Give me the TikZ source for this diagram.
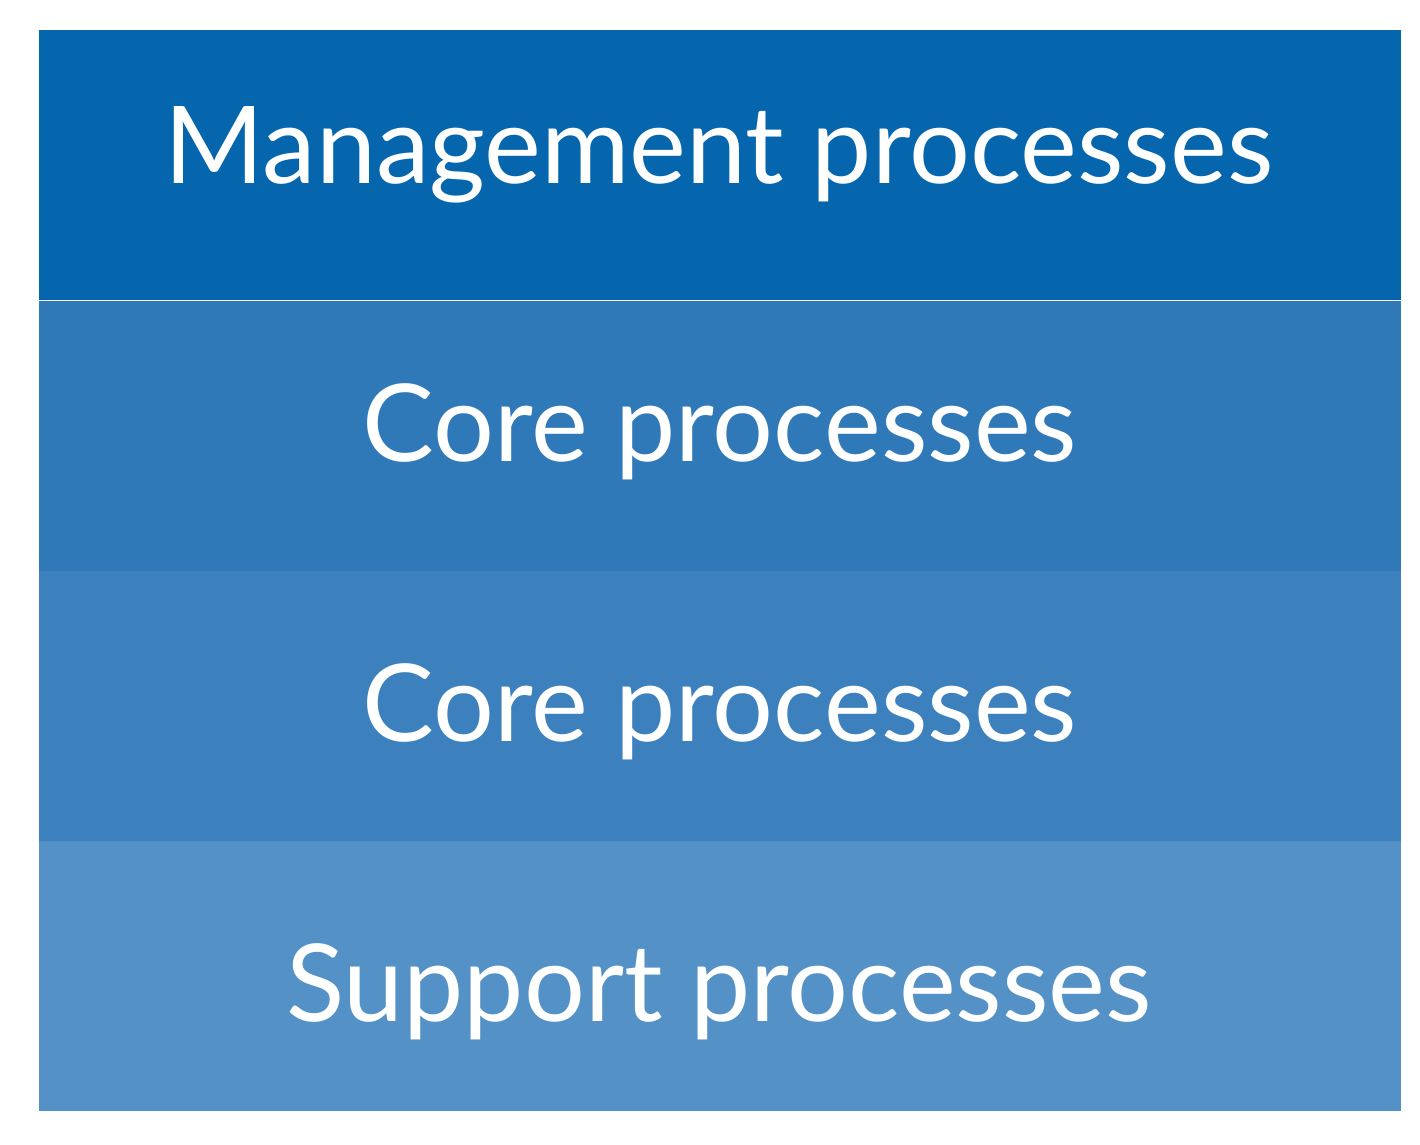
\documentclass[tikz,border=0pt]{standalone}
\usepackage{fontspec}
\setmainfont{Lato}
\usepackage{tikz}
\usetikzlibrary{positioning}

\definecolor{bandA}{RGB}{5,102,174}
\definecolor{bandB}{RGB}{47,121,184}
\definecolor{bandC}{RGB}{60,129,190}
\definecolor{bandD}{RGB}{84,145,199}

\tikzset{
  band/.style={draw=none, inner sep=0pt, minimum width=1362pt, minimum height=270pt, anchor=north west},
  label/.style={text=white, anchor=base, font=\fontsize{107.5}{120}\selectfont}
}

\begin{document}
\begin{tikzpicture}[x=1pt,y=-1pt]

% page size
\useasboundingbox (0,0) rectangle (1420,1144);

% the four bands
\node[band, fill=bandA, minimum height=270pt] (mgmt) at (39,30) {};
\node[band, fill=bandB, minimum height=271pt] (coreA) at (39,301) {};
\node[band, fill=bandC] (coreB) at (39,571) {};
\node[band, fill=bandD] (supp) at (39,841) {};

% texts
\node[label] (mgmtlabel) at (719,183) {Management processes};
\node[label] (corealabel) at (720,461) {Core processes};
\node[label] (coreblabel) at (720,741) {Core processes};
\node[label] (supplabel) at (719,1021) {Support processes};

\end{tikzpicture}
\end{document}
